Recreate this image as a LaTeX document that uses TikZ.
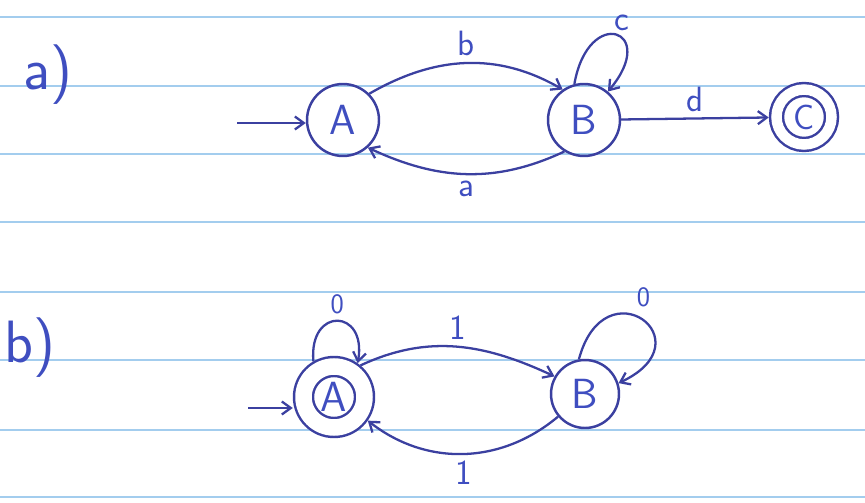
\documentclass[tikz,border=0pt]{standalone}
\usepackage{xcolor}
\usepackage{tikz}
\usetikzlibrary{arrows.meta, positioning}
\definecolor{inkBlue}{HTML}{3B40A0}
\definecolor{inkText}{HTML}{3F4EC0}
\definecolor{ruleBlue}{HTML}{A3CDEE}

\begin{document}
\begin{tikzpicture}[
    x=0.02cm, y=-0.02cm,
    rule/.style={draw=ruleBlue, line width=1.2pt},
    state/.style={circle, draw=inkBlue, line width=1.4pt, minimum size=1.44cm, inner sep=0pt, text=inkText, font=\fontsize{24}{26}\sffamily},
    accept/.style={state, double=white, double distance=#1},
    arrow/.style={-{Straight Barb[length=1.8mm, width=2.6mm]}, line width=1.3pt, draw=inkBlue},
    lbl/.style={text=inkText, font=\fontsize{20}{22}\sffamily},
    small/.style={text=inkText, font=\fontsize{16}{18}\sffamily},
    part/.style={text=inkText, font=\fontsize{34}{36}\sffamily}
]
\useasboundingbox (0,0) rectangle (865,503);

% ruled paper
\foreach \y in {17,86,154,222,292,360,430,497}
  \draw[rule] (0,\y) -- (865,\y);

% part a)
\node[part] (parta) at (48,75) {a)};
\node[state] (A1) at (343,120) {A};
\node[state] (B1) at (584,120) {B};
\node[accept=0.21cm, minimum size=1.1cm, outer sep=0.155cm, font=\fontsize{20}{22}\sffamily] (C1) at (804,117) {C};
\coordinate (start1) at (237,123);

\draw[arrow] (start1) -- (start1 -| A1.west);
\draw[arrow] (A1.45) to[out=30, in=150] node[lbl, above] {b} (B1.125);
\draw[arrow] (B1.238) to[out=-155, in=-25] node[lbl, below] {a} (A1.-48);
\draw[arrow] (B1.105) to[out=80, in=50, looseness=6] node[lbl, pos=0.45, above right, inner sep=1pt] {c} (B1.50);
\draw[arrow] (B1) -- node[lbl, above] {d} (C1);

% part b)
\node[part] (partb) at (30,348) {b)};
\node[accept=0.33cm, minimum size=1.22cm, outer sep=0.215cm] (A2) at (334,397) {A};
\node[state, minimum size=1.36cm] (B2) at (585,394) {B};
\coordinate (start2) at (248,408);

\draw[arrow] (start2) -- (start2 -| A2.west);
\draw[arrow] (A2.120) to[out=95, in=80, looseness=3.2] node[small, above] {0} (A2.55);
\draw[arrow] (A2.50) to[out=25, in=155] node[lbl, above] {1} (B2.150);
\draw[arrow] (B2.220) to[out=-140, in=-38] node[lbl, below] {1} (A2.-35);
\draw[arrow] (B2.100) to[out=75, in=25, looseness=5.5] node[small, pos=0.4, above right] {0} (B2.18);

\end{tikzpicture}
\end{document}
